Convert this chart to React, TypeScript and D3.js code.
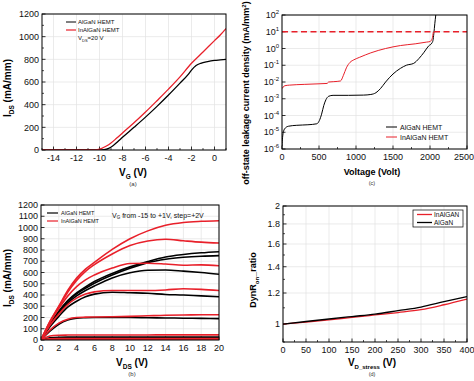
import React from 'react';
import * as d3 from 'd3';

const RED = '#e8202a';
const FONT = 'Liberation Sans, Arial, sans-serif';

// ---------- Panel (a): transfer ----------
const aVgAlGaN = [-15, -10, -9.6, -9.2, -8.8, -8.4, -8, -7, -6, -5, -4, -3, -2.3, -2, -1.6, -1.2, -0.6, 0, 0.5, 1];
const aIdsAlGaN = [0, 0, 3, 15, 40, 75, 112, 200, 290, 385, 485, 590, 665, 705, 745, 765, 780, 790, 795, 800];
const aVgInAlGaN = [-15, -10.6, -10.2, -9.8, -9.4, -9, -8.5, -8, -7, -6, -5, -4, -3, -2, -1, 0, 0.5, 1];
const aIdsInAlGaN = [0, 0, 4, 15, 35, 62, 105, 150, 240, 335, 435, 537, 645, 765, 865, 965, 1015, 1072];
const aXTicks = [-14, -12, -10, -8, -6, -4, -2, 0];
const aYTicks = [0, 200, 400, 600, 800, 1000, 1200];

// ---------- Panel (b): output ----------
const bVds = [0, 1, 2, 3, 4, 5, 6, 8, 10, 12, 14, 16, 18, 20];
const bRed = [
  [0, 165, 300, 440, 550, 630, 690, 805, 900, 970, 1020, 1045, 1055, 1060],
  [0, 160, 295, 425, 530, 610, 670, 765, 840, 880, 895, 882, 870, 862],
  [0, 155, 280, 390, 475, 535, 578, 640, 680, 682, 675, 665, 668, 660],
  [0, 130, 230, 315, 372, 408, 428, 440, 440, 440, 445, 455, 450, 440],
  [0, 88, 150, 185, 200, 203, 205, 207, 210, 215, 220, 222, 224, 225],
  [0, 35, 42, 44, 45, 45, 45, 45, 45, 45, 46, 46, 46, 46],
  [0, 10, 12, 12, 12, 12, 12, 12, 12, 13, 13, 13, 13, 13],
  [0, 2, 3, 3, 3, 3, 3, 3, 3, 3, 3, 3, 3, 3],
  [0, 0, 0, 0, 0, 0, 0, 0, 0, 0, 0, 0, 0, 0],
];
const bBlack = [
  [0, 140, 255, 350, 418, 472, 520, 592, 650, 698, 738, 760, 775, 785],
  [0, 138, 250, 342, 410, 460, 505, 578, 638, 688, 718, 735, 745, 750],
  [0, 135, 240, 328, 392, 440, 480, 552, 598, 620, 622, 612, 600, 585],
  [0, 118, 210, 292, 345, 385, 408, 425, 420, 415, 405, 400, 392, 385],
  [0, 78, 140, 178, 194, 198, 200, 200, 200, 198, 196, 194, 192, 190],
  [0, 20, 25, 26, 26, 26, 26, 26, 26, 26, 26, 26, 26, 26],
  [0, 3, 4, 4, 4, 4, 4, 4, 4, 4, 4, 4, 4, 4],
  [0, 1, 1, 1, 1, 1, 1, 1, 1, 1, 1, 1, 1, 1],
  [0, 0, 0, 0, 0, 0, 0, 0, 0, 0, 0, 0, 0, 0],
];
const bXTicks = [0, 2, 4, 6, 8, 10, 12, 14, 16, 18, 20];
const bYTicks = [0, 100, 200, 300, 400, 500, 600, 700, 800, 900, 1000, 1100, 1200];

// ---------- Panel (c): leakage ----------
const cVAlGaN = [0, 8, 20, 45, 90, 200, 350, 470, 505, 535, 565, 595, 630, 690, 900, 1100, 1200, 1270, 1330, 1400, 1500, 1600, 1680, 1780, 1850, 1920, 1980, 2025, 2040, 2052, 2065, 2078];
const cJAlGaN = [1.5e-6, 5e-6, 1.1e-5, 1.8e-5, 2.3e-5, 2.6e-5, 2.8e-5, 3.2e-5, 5e-5, 1.2e-4, 4e-4, 9e-4, 1.4e-3, 1.6e-3, 1.6e-3, 1.65e-3, 1.8e-3, 2.3e-3, 4e-3, 1e-2, 3e-2, 6.5e-2, 1e-1, 1.3e-1, 2.5e-1, 6e-1, 1.4, 2.1, 3, 8, 30, 100];
const cVInAlGaN = [0, 15, 40, 100, 300, 500, 610, 630, 700, 790, 830, 870, 920, 970, 1050, 1200, 1400, 1600, 1800, 1950, 2000, 2030, 2045];
const cJInAlGaN = [4e-3, 5e-3, 6e-3, 6.5e-3, 7.2e-3, 7.8e-3, 8.2e-3, 1e-2, 1.05e-2, 1.15e-2, 2.5e-2, 7e-2, 1.5e-1, 2.1e-1, 3e-1, 5.5e-1, 1.0, 1.5, 1.9, 2.4, 2.6, 4, 10];
const cDashV = [0, 2500];
const cDashJ = [10, 10];
const cXTicks = [0, 500, 1000, 1500, 2000, 2500];
const cYExp = [-6, -5, -4, -3, -2, -1, 0, 1, 2];

// ---------- Panel (d): dynamic Ron ----------
const dV = [0, 50, 100, 150, 200, 250, 300, 350, 400];
const dInAlGaN = [1, 1.012, 1.025, 1.04, 1.055, 1.07, 1.088, 1.12, 1.158];
const dAlGaN = [1, 1.015, 1.03, 1.045, 1.06, 1.082, 1.105, 1.14, 1.175];
const dXTicks = [0, 50, 100, 150, 200, 250, 300, 350, 400];
const dYTicks = [1, 1.2, 1.4, 1.6, 1.8, 2];
const dYMinor = [0.9, 1.1, 1.3, 1.5, 1.7, 1.9];

type Sc = (v: number) => number;

function Frame(props: {
  x: Sc; y: Sc; l: number; r: number; t: number; b: number;
  xt: number[]; yt: number[]; xm?: number[]; ym?: number[];
  xl?: (v: number) => any; yl?: (v: number) => any;
}) {
  const { x, y, l, r, t, b, xt, yt, xm = [], ym = [] } = props;
  const xl = props.xl || ((v: number) => String(v));
  const yl = props.yl || ((v: number) => String(v));
  return (
    <g>
      {xt.map((v, i) => (
        <line key={'gx' + i} x1={x(v)} x2={x(v)} y1={t} y2={b} stroke="#e2e2e2" strokeWidth={0.7} />
      ))}
      {yt.map((v, i) => (
        <line key={'gy' + i} x1={l} x2={r} y1={y(v)} y2={y(v)} stroke="#e2e2e2" strokeWidth={0.7} />
      ))}
      {xt.map((v, i) => (
        <line key={'tx' + i} x1={x(v)} x2={x(v)} y1={b} y2={b - 3.5} stroke="#000" strokeWidth={0.8} />
      ))}
      {xm.map((v, i) => (
        <line key={'mx' + i} x1={x(v)} x2={x(v)} y1={b} y2={b - 2} stroke="#000" strokeWidth={0.7} />
      ))}
      {yt.map((v, i) => (
        <line key={'ty' + i} x1={l} x2={l + 3.5} y1={y(v)} y2={y(v)} stroke="#000" strokeWidth={0.8} />
      ))}
      {ym.map((v, i) => (
        <line key={'my' + i} x1={l} x2={l + 2} y1={y(v)} y2={y(v)} stroke="#000" strokeWidth={0.7} />
      ))}
      {xt.map((v, i) => (
        <text key={'lx' + i} x={x(v)} y={b + 10.5} fontSize={9} textAnchor="middle" fill="#111">{xl(v)}</text>
      ))}
      {yt.map((v, i) => (
        <text key={'ly' + i} x={l - 3} y={y(v) + 3.2} fontSize={9} textAnchor="end" fill="#111">{yl(v)}</text>
      ))}
    </g>
  );
}

function Box({ l, r, t, b }: { l: number; r: number; t: number; b: number }) {
  return <rect x={l} y={t} width={r - l} height={b - t} fill="none" stroke="#000" strokeWidth={1} />;
}

function mkLine(xs: number[], ys: number[], x: Sc, y: Sc, curve: any = d3.curveMonotoneX) {
  const pts = xs.map((v, i) => [v, ys[i]] as [number, number]);
  return d3.line<[number, number]>().x(d => x(d[0])).y(d => y(d[1])).curve(curve)(pts) || '';
}

export default function App() {
  // (a)
  const aL = 42, aR = 226, aT = 14, aB = 150;
  const ax = d3.scaleLinear().domain([-15, 1]).range([aL, aR]);
  const ay = d3.scaleLinear().domain([0, 1200]).range([aB, aT]);
  // (b)
  const bL = 41, bR = 219, bT = 205, bB = 340;
  const bx = d3.scaleLinear().domain([0, 20]).range([bL, bR]);
  const by = d3.scaleLinear().domain([0, 1200]).range([bB, bT]);
  // (c)
  const cL = 282, cR = 467, cT = 15, cB = 149;
  const cx = d3.scaleLinear().domain([0, 2500]).range([cL, cR]);
  const cy = d3.scaleLog().domain([1e-6, 1e2]).range([cB, cT]).clamp(true);
  // (d)
  const dL = 283, dR = 467, dT = 206, dB = 342;
  const dx = d3.scaleLinear().domain([0, 400]).range([dL, dR]);
  const dy = d3.scaleLog().domain([0.9, 2]).range([dB, dT]);

  const aXm = d3.range(-15, 1.01, 1).filter(v => !aXTicks.includes(v));
  const aYm = d3.range(100, 1200, 200);
  const bXm = d3.range(1, 20, 2);
  const cXm = d3.range(250, 2500, 500);
  const dXm = d3.range(25, 400, 50);

  return (
    <div style={{ position: 'absolute', left: 0, top: 0 }}>
      <svg width={474} height={381} style={{ display: 'block', fontFamily: FONT }}>
        <rect width={474} height={381} fill="#fff" />
        <defs>
          <clipPath id="ca"><rect x={aL} y={aT} width={aR - aL} height={aB - aT} /></clipPath>
          <clipPath id="cb"><rect x={bL} y={bT - 2} width={bR - bL} height={bB - bT + 2} /></clipPath>
          <clipPath id="cc"><rect x={cL} y={cT} width={cR - cL} height={cB - cT} /></clipPath>
          <clipPath id="cd"><rect x={dL} y={dT} width={dR - dL} height={dB - dT} /></clipPath>
        </defs>

        {/* ===== (a) ===== */}
        <Frame x={ax} y={ay} l={aL} r={aR} t={aT} b={aB} xt={aXTicks} yt={aYTicks} xm={aXm} ym={aYm} />
        <g clipPath="url(#ca)">
          <path d={mkLine(aVgAlGaN, aIdsAlGaN, ax, ay)} fill="none" stroke="#000" strokeWidth={1.3} />
          <path d={mkLine(aVgInAlGaN, aIdsInAlGaN, ax, ay)} fill="none" stroke={RED} strokeWidth={1.3} />
        </g>
        <Box l={aL} r={aR} t={aT} b={aB} />
        <line x1={66} x2={76} y1={22} y2={22} stroke="#000" strokeWidth={1} />
        <line x1={66} x2={76} y1={30} y2={30} stroke={RED} strokeWidth={1.2} />
        <text x={78} y={24.2} fontSize={6} fill="#111">AlGaN HEMT</text>
        <text x={78} y={32.2} fontSize={6} fill="#111">InAlGaN HEMT</text>
        <text x={78} y={40} fontSize={6} fill="#111">V<tspan fontSize={4} dy={1.5}>DS</tspan><tspan dy={-1.5}>=20 V</tspan></text>
        <text x={133} y={176} fontSize={10} fontWeight="bold" textAnchor="middle">V<tspan fontSize={6.5} dy={2.5}>G</tspan><tspan dy={-2.5}> (V)</tspan></text>
        <text x={133} y={186} fontSize={6} textAnchor="middle" fill="#333">(a)</text>
        <text transform="translate(11,88) rotate(-90)" fontSize={10} fontWeight="bold" textAnchor="middle">I<tspan fontSize={6.5} dy={2.5}>DS</tspan><tspan dy={-2.5}> (mA/mm)</tspan></text>

        {/* ===== (b) ===== */}
        <Frame x={bx} y={by} l={bL} r={bR} t={bT} b={bB} xt={bXTicks} yt={bYTicks} xm={bXm} />
        <g clipPath="url(#cb)">
          {bBlack.map((ys, i) => (
            <path key={'bk' + i} d={mkLine(bVds, ys, bx, by)} fill="none" stroke="#000" strokeWidth={1.6} />
          ))}
          {bRed.map((ys, i) => (
            <path key={'br' + i} d={mkLine(bVds, ys, bx, by)} fill="none" stroke={RED} strokeWidth={1.6} />
          ))}
        </g>
        <Box l={bL} r={bR} t={bT} b={bB} />
        <line x1={47} x2={58} y1={213} y2={213} stroke="#000" strokeWidth={1.2} />
        <line x1={47} x2={58} y1={221} y2={221} stroke={RED} strokeWidth={1.2} />
        <text x={61} y={215} fontSize={5.5} fill="#111">AlGaN HEMT</text>
        <text x={61} y={223} fontSize={5.5} fill="#111">InAlGaN HEMT</text>
        <text x={112} y={217.5} fontSize={7} fill="#111">V<tspan fontSize={4.5} dy={1.5}>G</tspan><tspan dy={-1.5}> from -15 to +1V, step=+2V</tspan></text>
        <text x={132} y={366} fontSize={10} fontWeight="bold" textAnchor="middle">V<tspan fontSize={6.5} dy={2.5}>DS</tspan><tspan dy={-2.5}> (V)</tspan></text>
        <text x={132} y={376} fontSize={6} textAnchor="middle" fill="#333">(b)</text>
        <text transform="translate(11,278) rotate(-90)" fontSize={10} fontWeight="bold" textAnchor="middle">I<tspan fontSize={6.5} dy={2.5}>DS</tspan><tspan dy={-2.5}> (mA/mm)</tspan></text>

        {/* ===== (c) ===== */}
        <Frame x={cx} y={cy} l={cL} r={cR} t={cT} b={cB} xt={cXTicks} yt={cYExp.map(e => Math.pow(10, e))} xm={cXm}
          xl={(v: number) => (v === 2500 ? <tspan dx={-3}>{v}</tspan> : String(v))}
          yl={(v: number) => {
            const e = Math.round(Math.log10(v));
            return <>10<tspan fontSize={6} dy={-4}>{e}</tspan></>;
          }} />
        <g clipPath="url(#cc)">
          <path d={mkLine(cVAlGaN, cJAlGaN, cx, cy)} fill="none" stroke="#000" strokeWidth={1} />
          <path d={mkLine(cVInAlGaN, cJInAlGaN, cx, cy)} fill="none" stroke={RED} strokeWidth={1} />
          <path d={mkLine(cDashV, cDashJ, cx, cy, d3.curveLinear)} fill="none" stroke={RED} strokeWidth={1.6} strokeDasharray="6,3.5" />
        </g>
        <Box l={cL} r={cR} t={cT} b={cB} />
        <line x1={386} x2={397} y1={127} y2={127} stroke="#000" strokeWidth={1} />
        <line x1={386} x2={397} y1={137} y2={137} stroke={RED} strokeWidth={1} />
        <text x={400} y={129.5} fontSize={7} fill="#111">AlGaN HEMT</text>
        <text x={400} y={139.5} fontSize={7} fill="#111">InAlGaN HEMT</text>
        <text x={372} y={175} fontSize={9} fontWeight="bold" textAnchor="middle">Voltage (Volt)</text>
        <text x={372} y={185} fontSize={5.5} textAnchor="middle" fill="#333">(c)</text>
        <text transform="translate(249,93) rotate(-90)" fontSize={9} fontWeight="bold" textAnchor="middle">off-state leakage current density (mA/mm<tspan fontSize={6} dy={-3}>2</tspan><tspan dy={3}>)</tspan></text>

        {/* ===== (d) ===== */}
        <Frame x={dx} y={dy} l={dL} r={dR} t={dT} b={dB} xt={dXTicks} yt={dYTicks} xm={dXm} ym={dYMinor} />
        <g clipPath="url(#cd)">
          <path d={mkLine(dV, dInAlGaN, dx, dy)} fill="none" stroke={RED} strokeWidth={1.3} />
          <path d={mkLine(dV, dAlGaN, dx, dy)} fill="none" stroke="#000" strokeWidth={1.3} />
        </g>
        <Box l={dL} r={dR} t={dT} b={dB} />
        <rect x={413} y={210} width={50} height={17} fill="#fff" stroke="#000" strokeWidth={0.7} />
        <line x1={417} x2={432} y1={214.5} y2={214.5} stroke={RED} strokeWidth={1.3} />
        <line x1={417} x2={432} y1={222.5} y2={222.5} stroke="#000" strokeWidth={1.3} />
        <text x={434} y={216.8} fontSize={6.5} fill="#111">InAlGAN</text>
        <text x={434} y={224.8} fontSize={6.5} fill="#111">AlGaN</text>
        <text x={372} y={366} fontSize={10} fontWeight="bold" textAnchor="middle">V<tspan fontSize={6} dy={2.5}>D_stress</tspan><tspan dy={-2.5}> (V)</tspan></text>
        <text x={372} y={376} fontSize={5.5} textAnchor="middle" fill="#333">(d)</text>
        <text transform="translate(256,280) rotate(-90)" fontSize={9} fontWeight="bold" textAnchor="middle">DynR<tspan fontSize={6} dy={2.5}>on</tspan><tspan dy={-2.5}>_ratio</tspan></text>
      </svg>
    </div>
  );
}
